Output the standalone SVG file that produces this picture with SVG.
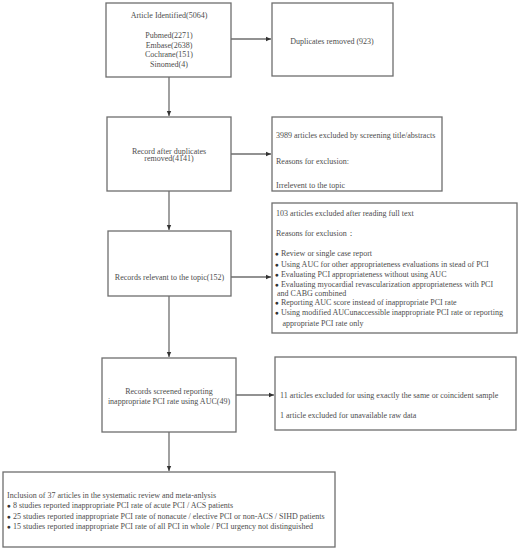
<svg xmlns="http://www.w3.org/2000/svg" width="519" height="550" viewBox="0 0 519 550">
<defs>
<style>
.box{fill:#fff;stroke:#6e6e6e;stroke-width:1.3}
.t{font-family:"Liberation Serif","Times New Roman",serif;font-size:8px;fill:#4d4d4d}
.c{text-anchor:middle}
.b{font-size:6.5px;fill:#333}
.ln{stroke:#6e6e6e;stroke-width:1.3;fill:none}
</style>
<marker id="ah" markerWidth="6" markerHeight="6" refX="5" refY="3" orient="auto" markerUnits="userSpaceOnUse">
<path d="M0,0.8 L5,3 L0,5.2 Z" fill="#333"/>
</marker>
</defs>
<rect width="519" height="550" fill="#fff"/>
<g id="connectors">
<line class="ln" x1="231" y1="39" x2="271" y2="39" marker-end="url(#ah)"/>
<line class="ln" x1="169" y1="77" x2="169" y2="116" marker-end="url(#ah)"/>
<line class="ln" x1="231" y1="154" x2="271" y2="154" marker-end="url(#ah)"/>
<line class="ln" x1="169" y1="191" x2="169" y2="230" marker-end="url(#ah)"/>
<line class="ln" x1="231" y1="277" x2="271" y2="277" marker-end="url(#ah)"/>
<line class="ln" x1="169" y1="296" x2="169" y2="357" marker-end="url(#ah)"/>
<line class="ln" x1="236" y1="395" x2="274" y2="395" marker-end="url(#ah)"/>
<line class="ln" x1="169" y1="432" x2="169" y2="471" marker-end="url(#ah)"/>
</g>
<g id="identified">
<rect class="box" x="106" y="3" width="125" height="74"/>
<text class="t c" x="169" y="18">Article Identified(5064)</text>
<text class="t c" x="169" y="38">Pubmed(2271)</text>
<text class="t c" x="169" y="47.5">Embase(2638)</text>
<text class="t c" x="169" y="57">Cochrane(151)</text>
<text class="t c" x="169" y="66.5">Sinomed(4)</text>
</g>
<g id="duplicates">
<rect class="box" x="272" y="3" width="121" height="73"/>
<text class="t c" x="332" y="44">Duplicates removed (923)</text>
</g>
<g id="after-duplicates">
<rect class="box" x="107" y="117" width="124" height="74"/>
<text class="t c" x="169" y="153.5">Record after duplicates</text>
<text class="t c" x="169" y="161">removed(4141)</text>
</g>
<g id="excluded-title">
<rect class="box" x="272" y="117" width="170" height="74"/>
<text class="t" x="276" y="137.5">3989 articles excluded by screening title/abstracts</text>
<text class="t" x="276" y="164">Reasons for exclusion:</text>
<text class="t" x="276" y="187.5">Irrelevent to the topic</text>
</g>
<g id="relevant">
<rect class="box" x="108" y="231" width="123" height="65"/>
<text class="t c" x="169.5" y="280">Records relevant to the topic(152)</text>
</g>
<g id="excluded-fulltext">
<rect class="box" x="272" y="203" width="245" height="130"/>
<text class="t" x="276" y="216">103 articles excluded after reading full text</text>
<text class="t" x="276" y="236">Reasons for exclusion：</text>
<text class="t" x="275" y="256"><tspan class="b">●</tspan> Review or single case report</text>
<text class="t" x="275" y="267"><tspan class="b">●</tspan> Using AUC for other appropriateness evaluations in stead of PCI</text>
<text class="t" x="275" y="277"><tspan class="b">●</tspan> Evaluating PCI appropriateness without using AUC</text>
<text class="t" x="275" y="287"><tspan class="b">●</tspan> Evaluating myocardial revascularization appropriateness with PCI</text>
<text class="t" x="277" y="296">and CABG combined</text>
<text class="t" x="275" y="305"><tspan class="b">●</tspan> Reporting AUC score instead of inappropriate PCI rate</text>
<text class="t" x="275" y="315"><tspan class="b">●</tspan> Using modified AUCunaccessible inappropriate PCI rate or reporting</text>
<text class="t" x="282.5" y="325.5">appropriate PCI rate only</text>
</g>
<g id="screened">
<rect class="box" x="102" y="358" width="134" height="74"/>
<text class="t c" x="169" y="393.5">Records screened reporting</text>
<text class="t c" x="169" y="403.5">inappropriate PCI rate using AUC(49)</text>
</g>
<g id="excluded-sample">
<rect class="box" x="275" y="357" width="241" height="73"/>
<text class="t" x="280" y="398">11 articles excluded for using exactly the same or coincident sample</text>
<text class="t" x="280" y="418">1 article excluded for unavailable raw data</text>
</g>
<g id="inclusion">
<rect class="box" x="3" y="472" width="332" height="75"/>
<text class="t" x="7" y="498">Inclusion of 37 articles in the systematic review and meta-anlysis</text>
<text class="t" x="7" y="508"><tspan class="b">●</tspan> 8 studies reported inappropriate PCI rate of acute PCI / ACS patients</text>
<text class="t" x="7" y="519"><tspan class="b">●</tspan> 25 studies reported inappropriate PCI rate of nonacute / elective PCI or non-ACS / SIHD patients</text>
<text class="t" x="7" y="529"><tspan class="b">●</tspan> 15 studies reported inappropriate PCI rate of all PCI in whole / PCI urgency not distinguished</text>
</g>
</svg>
